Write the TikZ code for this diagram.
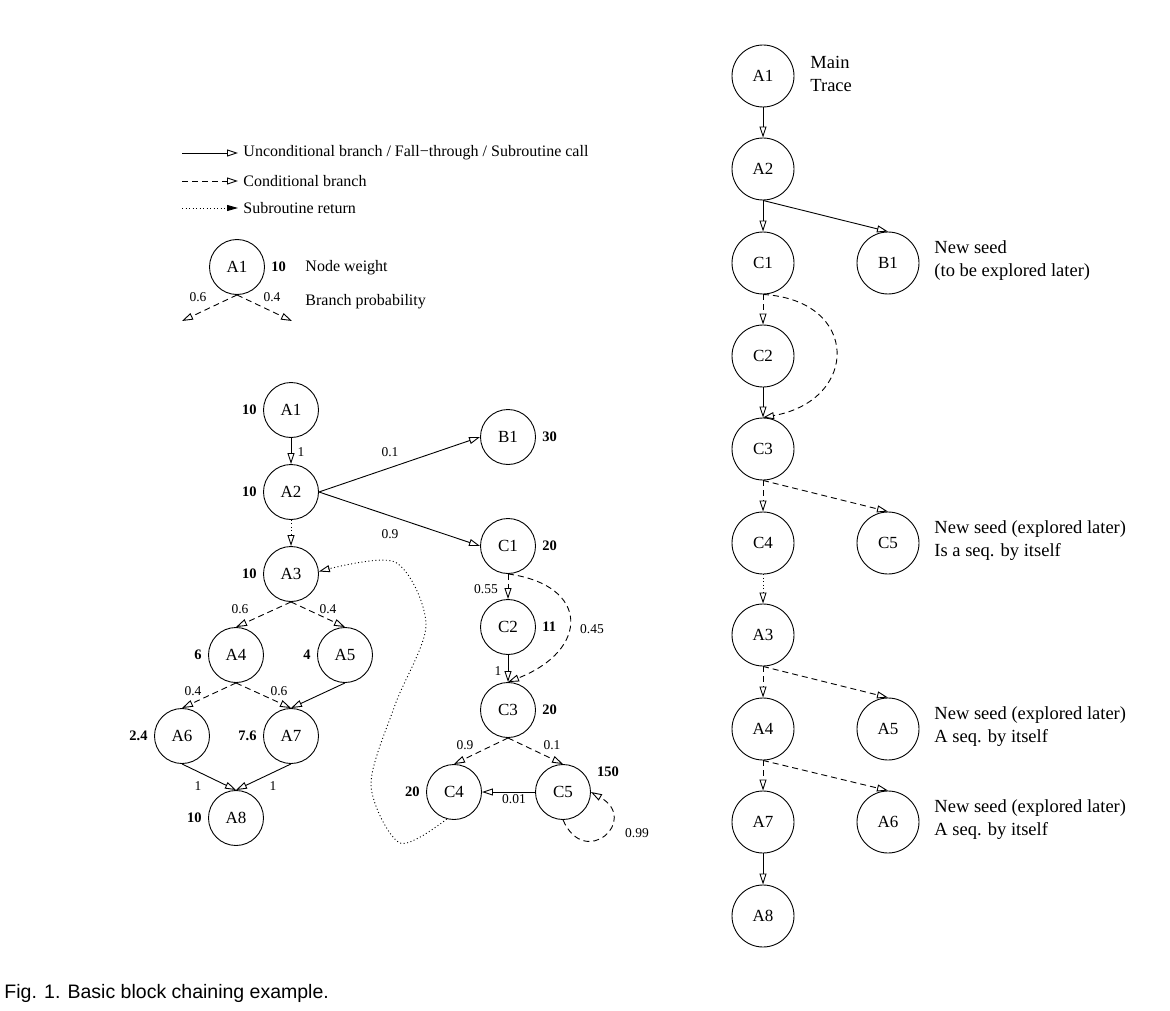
\documentclass[tikz,border=0pt]{standalone}
\usepackage{fontspec}
\setmainfont{Liberation Serif}
\newfontfamily\capfont{Liberation Sans}
\usetikzlibrary{arrows.meta,positioning}

\begin{document}
\begin{tikzpicture}[x=1pt,y=-1pt,line width=0.9pt,
  blk/.style={circle,draw,minimum size=55pt,inner sep=0pt,font=\fontsize{17}{20}\selectfont},
  bigblk/.style={blk,minimum size=62pt},
  wt/.style={font=\bfseries\fontsize{14.5}{17}\selectfont,inner sep=1pt},
  prob/.style={font=\fontsize{13.5}{16}\selectfont,inner sep=0pt},
  txt/.style={font=\fontsize{16}{19}\selectfont,inner sep=0pt,anchor=west},
  note/.style={font=\fontsize{18.5}{23}\selectfont,inner sep=0pt,anchor=west,align=left},
  uncond/.style={-{Triangle[open,length=11pt,width=7pt]}},
  cond/.style={uncond,dash pattern=on 6pt off 4pt},
  ret/.style={uncond,dash pattern=on 1pt off 2.5pt},
  retkey/.style={-{Triangle[length=11pt,width=6pt]},dash pattern=on 1pt off 2.5pt}]
\useasboundingbox (0,0) rectangle (1170,1011);
%
% legend
\coordinate (ka) at (182,153); \coordinate (kb) at (238,153);
\coordinate (kc) at (182,181); \coordinate (kd) at (238,181);
\coordinate (ke) at (182,208); \coordinate (kf) at (238,208);
\draw[uncond] (ka) -- (kb);
\draw[cond] (kc) -- (kd);
\draw[retkey] (ke) -- (kf);
\node[txt] (kt1) at (243,153) {Unconditional branch / Fall−through / Subroutine call};
\node[txt] (kt2) at (243,181) {Conditional branch};
\node[txt] (kt3) at (243,208) {Subroutine return};
\node[blk] (kA1) at (237,267) {A1};
\node[wt,right=5pt of kA1] (kw) {10};
\node[txt] (kt4) at (305,268) {Node weight};
\node[txt] (kt5) at (305,302) {Branch probability};
\coordinate (kl) at (182,321); \coordinate (kr) at (292,321);
\draw[cond] (kA1.south) -- (kl);
\draw[cond] (kA1.south) -- (kr);
\node[prob] (kp1) at (198,297) {0.6};
\node[prob] (kp2) at (272,297) {0.4};
%
% control flow graph
\node[blk] (A1) at (291,410) {A1};
\node[blk] (A2) at (291,492) {A2};
\node[blk] (A3) at (291,574) {A3};
\node[blk] (A4) at (236,655) {A4};
\node[blk] (A5) at (345,655) {A5};
\node[blk] (A6) at (182,736) {A6};
\node[blk] (A7) at (291,736) {A7};
\node[blk] (A8) at (236,818) {A8};
\node[blk] (B1) at (508,437) {B1};
\node[blk] (C1) at (508,546) {C1};
\node[blk] (C2) at (508,627) {C2};
\node[blk] (C3) at (508,710) {C3};
\node[blk] (C4) at (454,792) {C4};
\node[blk] (C5) at (563,792) {C5};
%
\node[wt,left=5pt of A1] (wA1) {10};
\node[wt,left=5pt of A2] (wA2) {10};
\node[wt,left=5pt of A3] (wA3) {10};
\node[wt,left=5pt of A4] (wA4) {6};
\node[wt,left=5pt of A5] (wA5) {4};
\node[wt,left=5pt of A6] (wA6) {2.4};
\node[wt,left=5pt of A7] (wA7) {7.6};
\node[wt,left=5pt of A8] (wA8) {10};
\node[wt,right=5pt of B1] (wB1) {30};
\node[wt,right=5pt of C1] (wC1) {20};
\node[wt,right=5pt of C2] (wC2) {11};
\node[wt,right=5pt of C3] (wC3) {20};
\node[wt,left=5pt of C4] (wC4) {20};
\node[wt] (wC5) at (608,772) {150};
%
\draw[uncond] (A1) -- (A2);
\draw[uncond] (A2.east) -- (B1.west);
\draw[uncond] (A2.east) -- (C1.west);
\draw[ret] (A2) -- (A3);
\draw[cond] (A3.south) -- (A4.north);
\draw[cond] (A3.south) -- (A5.north);
\draw[cond] (A4.south) -- (A6.north);
\draw[cond] (A4.south) -- (A7.north);
\draw[uncond] (A5.south) -- (A7.north);
\draw[uncond] (A6.south) -- (A8.north);
\draw[uncond] (A7.south) -- (A8.north);
\draw[cond] (C1) -- (C2);
\draw[cond] (C1.south) .. controls (590,585) and (590,650) .. (C3.north);
\draw[uncond] (C2) -- (C3);
\draw[cond] (C3.south) -- (C4.north);
\draw[cond] (C3.south) -- (C5.north);
\draw[uncond] (C5) -- (C4);
\draw[cond] (C5.south) .. controls (585,870) and (640,820) .. (C5.east);
\draw[ret] plot[smooth] coordinates {(C4.-105) (400,843) (371,785) (395,705) (426,625) (395,562) (A3.5)};
%
\node[prob] (pA1A2) at (301,452) {1};
\node[prob] (pA2B1) at (390,452) {0.1};
\node[prob] (pA2C1) at (390,534) {0.9};
\node[prob] (pA3A4) at (240,609) {0.6};
\node[prob] (pA3A5) at (328,609) {0.4};
\node[prob] (pA4A6) at (193,691) {0.4};
\node[prob] (pA4A7) at (279,691) {0.6};
\node[prob] (pA6A8) at (198,786) {1};
\node[prob] (pA7A8) at (273,786) {1};
\node[prob] (pC1C2) at (486,589) {0.55};
\node[prob] (pC1C3) at (592,629) {0.45};
\node[prob] (pC2C3) at (498,671) {1};
\node[prob] (pC3C4) at (465,745) {0.9};
\node[prob] (pC3C5) at (552,745) {0.1};
\node[prob] (pC5C4) at (514,799) {0.01};
\node[prob] (pC5C5) at (637,833) {0.99};
%
% main trace
\node[bigblk] (rA1) at (763,76) {A1};
\node[bigblk] (rA2) at (763,169) {A2};
\node[bigblk] (rC1) at (763,263) {C1};
\node[bigblk] (rB1) at (888,263) {B1};
\node[bigblk] (rC2) at (763,356) {C2};
\node[bigblk] (rC3) at (763,449) {C3};
\node[bigblk] (rC4) at (763,543) {C4};
\node[bigblk] (rC5) at (888,543) {C5};
\node[bigblk] (rA3) at (763,635) {A3};
\node[bigblk] (rA4) at (763,729) {A4};
\node[bigblk] (rA5) at (888,729) {A5};
\node[bigblk] (rA7) at (763,822) {A7};
\node[bigblk] (rA6) at (888,822) {A6};
\node[bigblk] (rA8) at (763,916) {A8};
%
\draw[uncond] (rA1) -- (rA2);
\draw[uncond] (rA2) -- (rC1);
\draw[uncond] (rA2.south) -- (rB1.north);
\draw[cond] (rC1) -- (rC2);
\draw[cond] (rC1.south) .. controls (860,300) and (860,400) .. (rC3.north);
\draw[uncond] (rC2) -- (rC3);
\draw[cond] (rC3) -- (rC4);
\draw[cond] (rC3.south) -- (rC5.north);
\draw[ret] (rC4) -- (rA3);
\draw[cond] (rA3) -- (rA4);
\draw[cond] (rA3.south) -- (rA5.north);
\draw[cond] (rA4) -- (rA7);
\draw[cond] (rA4.south) -- (rA6.north);
\draw[uncond] (rA7) -- (rA8);
%
\node[note] (nA1) at (810,74) {Main\\Trace};
\node[note] (nB1) at (934,261) {New seed\\(to be explored later)};
\node[note] (nC5) at (934,541) {New seed (explored later)\\Is a seq. by itself};
\node[note] (nA5) at (934,727) {New seed (explored later)\\A seq. by itself};
\node[note] (nA6) at (934,820) {New seed (explored later)\\A seq. by itself};
%
\node[anchor=west,inner sep=0pt,font=\capfont\fontsize{19.5}{23}\selectfont] (cap) at (4,993) {Fig. 1. Basic block chaining example.};
\end{tikzpicture}
\end{document}
